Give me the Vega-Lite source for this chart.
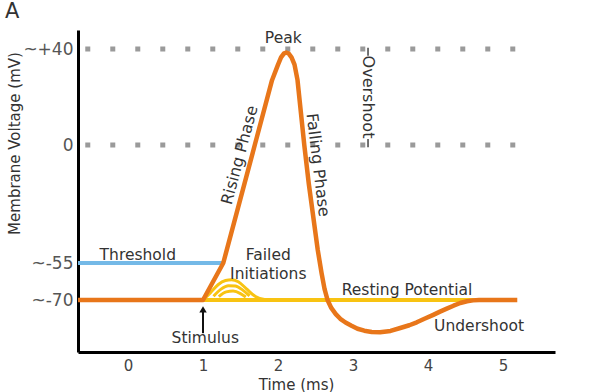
{
  "$schema": "https://vega.github.io/schema/vega-lite/v6.json",
  "autosize": "none",
  "width": 477,
  "height": 322,
  "padding": {"left": 78, "top": 30, "right": 45, "bottom": 40},
  "background": "white",
  "title": {"text": "A", "anchor": "start", "frame": "group", "dx": -73, "offset": 8, "fontSize": 21, "font": "DejaVu Sans", "fontWeight": "normal", "color": "#333"},
  "config": {"view": {"stroke": null}, "text": {"font": "DejaVu Sans"}},
  "datasets": {
    "dots": [{"t": -0.57, "t2": 5.2, "v": 40}, {"t": -0.57, "t2": 5.2, "v": 0}],
    "threshold": [{"t": -0.667, "t2": 1.27, "v": -55}],
    "resting": [{"t": 1.0, "v": -70}, {"t": 4.8, "v": -70}],
    "bumps": [
      {"s": "a", "t": 1.0, "v": -70}, {"s": "a", "t": 1.1, "v": -67}, {"s": "a", "t": 1.2, "v": -63.8}, {"s": "a", "t": 1.3, "v": -62.1}, {"s": "a", "t": 1.38, "v": -61.8}, {"s": "a", "t": 1.47, "v": -62.6}, {"s": "a", "t": 1.58, "v": -65.5}, {"s": "a", "t": 1.7, "v": -68.6}, {"s": "a", "t": 1.82, "v": -69.8}, {"s": "a", "t": 1.9, "v": -70},
      {"s": "b", "t": 1.14, "v": -68.5}, {"s": "b", "t": 1.24, "v": -65.6}, {"s": "b", "t": 1.34, "v": -64.2}, {"s": "b", "t": 1.43, "v": -64.3}, {"s": "b", "t": 1.53, "v": -66}, {"s": "b", "t": 1.62, "v": -68.3},
      {"s": "c", "t": 1.21, "v": -68.6}, {"s": "c", "t": 1.31, "v": -66.7}, {"s": "c", "t": 1.4, "v": -66.4}, {"s": "c", "t": 1.5, "v": -67.4}, {"s": "c", "t": 1.57, "v": -68.8}
    ],
    "main": [
      {"t": -0.667, "v": -70}, {"t": 1.0, "v": -70}, {"t": 1.27, "v": -55}, {"t": 1.69, "v": 0}, {"t": 1.92, "v": 27}, {"t": 2.0, "v": 33.5}, {"t": 2.04, "v": 36.5}, {"t": 2.08, "v": 38.2}, {"t": 2.11, "v": 38.5}, {"t": 2.14, "v": 38.2}, {"t": 2.18, "v": 36.5}, {"t": 2.22, "v": 33.5}, {"t": 2.26, "v": 27}, {"t": 2.35, "v": 0}, {"t": 2.41, "v": -18}, {"t": 2.53, "v": -49}, {"t": 2.58, "v": -59}, {"t": 2.62, "v": -65.5}, {"t": 2.66, "v": -70}, {"t": 2.71, "v": -73.2}, {"t": 2.77, "v": -75.7}, {"t": 2.83, "v": -77.6}, {"t": 2.9, "v": -79.1}, {"t": 2.98, "v": -80.4}, {"t": 3.06, "v": -81.6}, {"t": 3.15, "v": -82.4}, {"t": 3.25, "v": -82.9}, {"t": 3.36, "v": -83}, {"t": 3.5, "v": -82.5}, {"t": 3.63, "v": -81.3}, {"t": 3.75, "v": -80.2}, {"t": 3.85, "v": -79}, {"t": 3.96, "v": -77.5}, {"t": 4.07, "v": -76}, {"t": 4.16, "v": -74.7}, {"t": 4.25, "v": -73.5}, {"t": 4.34, "v": -72.3}, {"t": 4.43, "v": -71.2}, {"t": 4.52, "v": -70.5}, {"t": 4.6, "v": -70.15}, {"t": 4.68, "v": -70}, {"t": 5.19, "v": -70}
    ],
    "bracket": [{"t": 3.2, "v": 40.5, "v2": 37.2}, {"t": 3.2, "v": 2.5, "v2": -1}],
    "arrow": [{"t": 1.0, "v": -83.4, "v2": -74}],
    "arrowhead": [{"t": 1.0, "v": -73.8}],
    "labels": [
      {"label": "Peak", "t": 2.07, "v": 44.6},
      {"label": "Threshold", "t": 0.13, "v": -51.3},
      {"label": "Failed", "t": 1.87, "v": -51.4},
      {"label": "Initiations", "t": 1.87, "v": -59.6},
      {"label": "Resting Potential", "t": 3.72, "v": -66},
      {"label": "Undershoot", "t": 4.68, "v": -80.5},
      {"label": "Stimulus", "t": 1.03, "v": -85.4}
    ],
    "rising": [{"label": "Rising Phase", "t": 1.49, "v": -4.7}],
    "falling": [{"label": "Falling Phase", "t": 2.53, "v": -9.3}],
    "overshoot": [{"label": "Overshoot", "t": 3.2, "v": 20}]
  },
  "encoding": {
    "x": {
      "field": "t", "type": "quantitative",
      "scale": {"domain": [-0.667, 5.693], "nice": false, "zero": false},
      "axis": {"title": "Time (ms)", "values": [0, 1, 2, 3, 4, 5], "ticks": false, "grid": false, "domainColor": "black", "domainWidth": 3, "labelFont": "DejaVu Sans", "labelFontSize": 15, "labelColor": "#444", "labelPadding": 6, "titleFont": "DejaVu Sans", "titleFontSize": 15, "titleFontWeight": "normal", "titleColor": "#333", "titleX": 218, "titleY": 25, "titleBaseline": "top"}
    },
    "y": {
      "field": "v", "type": "quantitative",
      "scale": {"domain": [-91, -70, -55, 0, 40, 48], "range": [322, 270, 233, 115, 19, 0], "nice": false, "zero": false},
      "axis": {"title": "Membrane Voltage (mV)", "values": [40, 0, -55, -70], "labelExpr": "datum.value == 40 ? '~+40' : datum.value == 0 ? '0' : '~' + datum.value", "ticks": false, "grid": false, "domainColor": "black", "domainWidth": 3, "labelFont": "DejaVu Sans", "labelFontSize": 17, "labelColor": "#555", "labelPadding": 5, "titleFont": "DejaVu Sans", "titleFontSize": 15, "titleFontWeight": "normal", "titleColor": "#333", "titleX": -64, "titleY": 113, "titleAngle": -90, "titleAlign": "center", "titleBaseline": "middle"}
    }
  },
  "layer": [
    {"data": {"name": "dots"}, "mark": {"type": "rule", "color": "#9a9a9a", "strokeWidth": 5, "strokeDash": [5, 20], "strokeCap": "butt"}, "encoding": {"x2": {"field": "t2"}}},
    {"data": {"name": "threshold"}, "mark": {"type": "rule", "color": "#74B9E7", "strokeWidth": 4}, "encoding": {"x2": {"field": "t2"}}},
    {"data": {"name": "resting"}, "mark": {"type": "line", "color": "#F8C312", "strokeWidth": 4}},
    {"data": {"name": "bumps"}, "mark": {"type": "line", "color": "#F8C312", "strokeWidth": 3, "interpolate": "monotone"}, "encoding": {"detail": {"field": "s"}}},
    {"data": {"name": "main"}, "mark": {"type": "line", "color": "#E8761A", "strokeWidth": 4.5, "strokeJoin": "round"}},
    {"data": {"name": "bracket"}, "mark": {"type": "rule", "color": "#444", "strokeWidth": 1.5}, "encoding": {"y2": {"field": "v2"}}},
    {"data": {"name": "arrow"}, "mark": {"type": "rule", "color": "#111", "strokeWidth": 2}, "encoding": {"y2": {"field": "v2"}}},
    {"data": {"name": "arrowhead"}, "mark": {"type": "point", "shape": "triangle-up", "filled": true, "color": "#111", "size": 55, "opacity": 1}},
    {"data": {"name": "labels"}, "mark": {"type": "text", "fontSize": 15.5, "color": "#333", "align": "center", "baseline": "middle"}, "encoding": {"text": {"field": "label"}}},
    {"data": {"name": "rising"}, "mark": {"type": "text", "fontSize": 16, "color": "#333", "align": "center", "baseline": "middle", "angle": 285}, "encoding": {"text": {"field": "label"}}},
    {"data": {"name": "falling"}, "mark": {"type": "text", "fontSize": 16, "color": "#333", "align": "center", "baseline": "middle", "angle": 83}, "encoding": {"text": {"field": "label"}}},
    {"data": {"name": "overshoot"}, "mark": {"type": "text", "fontSize": 16, "color": "#333", "align": "center", "baseline": "middle", "angle": 90}, "encoding": {"text": {"field": "label"}}}
  ]
}
